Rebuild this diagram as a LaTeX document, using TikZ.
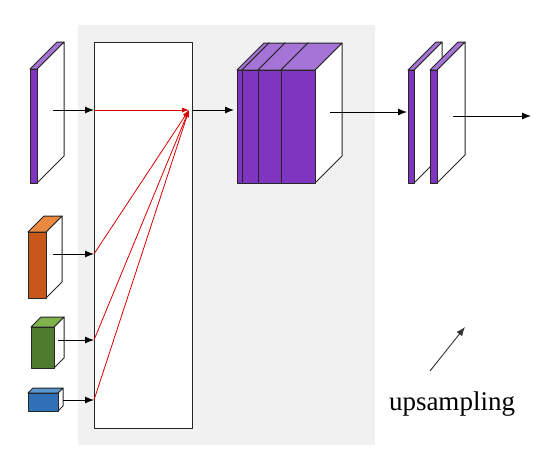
\documentclass[tikz,border=0pt]{standalone}
\usepackage{fontspec}
\setmainfont{Liberation Serif}
\usetikzlibrary{arrows.meta,positioning}
\definecolor{purp}{HTML}{7F35BF}
\definecolor{purplt}{HTML}{A574D6}
\definecolor{orng}{HTML}{C8581A}
\definecolor{orglt}{HTML}{EB8940}
\definecolor{grn}{HTML}{4F7B2F}
\definecolor{grnlt}{HTML}{80B24D}
\definecolor{blu}{HTML}{2F70B6}
\definecolor{blult}{HTML}{5A95D0}
\definecolor{bgray}{HTML}{F1F1F1}
% x, y (front top left), width, height, depth, front colour, top colour
\newcommand{\cuboid}[7]{%
  \draw[face, fill=white] (#1+#3,#2) -- ++(#5,-#5) -- ++(0,#4) -- ++(-#5,#5) -- cycle;
  \draw[face, fill=#7] (#1,#2) -- ++(#5,-#5) -- ++(#3,0) -- ++(-#5,#5) -- cycle;
  \draw[face, fill=#6] (#1,#2) rectangle ++(#3,#4);
}

\begin{document}
\begin{tikzpicture}[
  x=1pt,
  y=-1pt,
  face/.style={draw=black!85, line width=1pt, line join=round},
  flow/.style={draw=black, line width=1pt, -{Latex[length=9pt,width=7pt]}},
  fuse/.style={draw=red!85!black, line width=0.8pt, -{Latex[length=7pt,width=5pt]}},
  fusebox/.style={draw=black!85, fill=white, line width=1pt, minimum width=98pt, minimum height=386pt, inner sep=0pt}
]
\useasboundingbox (0,0) rectangle (550,467);
\fill[bgray] (78,25) rectangle (375,445);

% inputs
\cuboid{30}{69}{7}{114}{27}{purp}{purplt}
\cuboid{28}{232}{18}{66}{16}{orng}{orglt}
\cuboid{31}{327}{23}{41}{10}{grn}{grnlt}
\cuboid{28}{393}{30}{18}{5}{blu}{blult}

\node[fusebox] (box) at (143,235) {};
\coordinate (s1) at (53,110);
\coordinate (s2) at (53,254);
\coordinate (s3) at (58,340);
\coordinate (s4) at (63,400);
\coordinate (b1) at (94,110);
\coordinate (b2) at (94,254);
\coordinate (b3) at (94,340);
\coordinate (b4) at (94,400);
\coordinate (fz) at (189,110);
\draw[flow] (s1) -- (b1);
\draw[flow] (s2) -- (b2);
\draw[flow] (s3) -- (b3);
\draw[flow] (s4) -- (b4);
\draw[fuse] (b1) -- (fz);
\draw[fuse] (b2) -- (fz);
\draw[fuse] (b3) -- (fz);
\draw[fuse] (b4) -- (fz);

% concatenated features
\cuboid{237}{70}{5}{113}{27}{purp}{purplt}
\cuboid{242}{70}{16}{113}{27}{purp}{purplt}
\cuboid{258}{70}{23}{113}{27}{purp}{purplt}
\cuboid{281}{70}{34}{113}{27}{purp}{purplt}

% outputs
\cuboid{408}{70}{6}{113}{28}{purp}{purplt}
\cuboid{430}{70}{7}{113}{28}{purp}{purplt}

\coordinate (c0) at (192,110);
\coordinate (c1) at (234,110);
\coordinate (c2) at (330,112);
\coordinate (c3) at (407,112);
\coordinate (c4) at (453,116);
\coordinate (c5) at (531,116);
\draw[flow] (c0) -- (c1);
\draw[flow] (c2) -- (c3);
\draw[flow] (c4) -- (c5);

\node[font=\fontsize{27}{30}\selectfont, anchor=base] (ups) at (452,410) {upsampling};
\coordinate (u0) at (430,371);
\coordinate (u1) at (465,327);
\draw[flow, draw=black!80, line width=0.9pt] (u0) -- (u1);
\end{tikzpicture}
\end{document}
